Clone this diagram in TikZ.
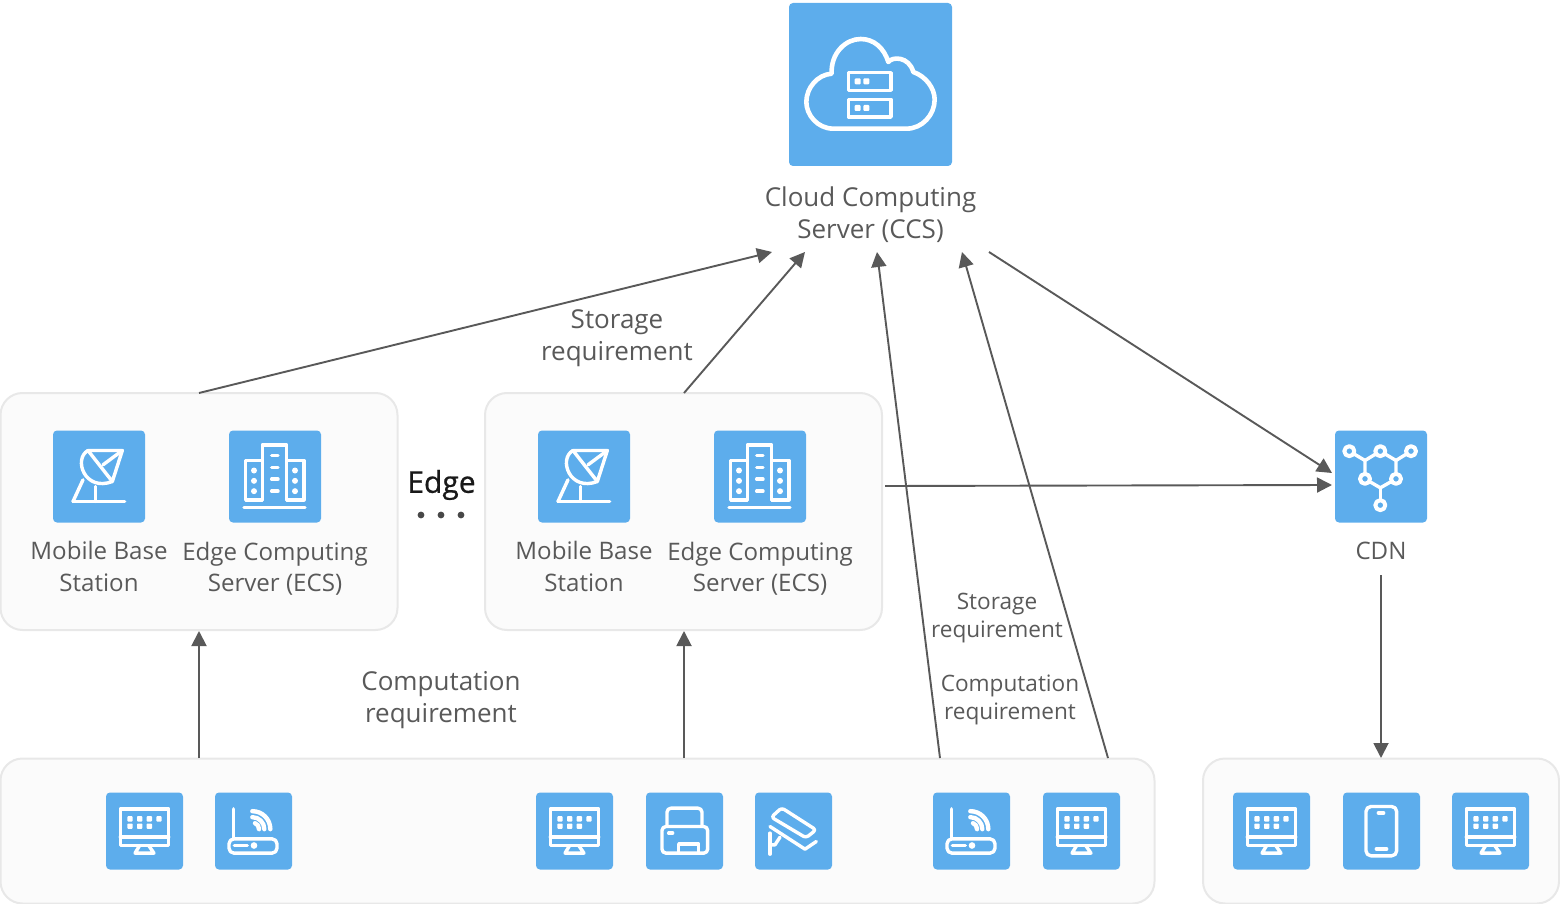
\documentclass[tikz,border=0pt]{standalone}
\usepackage{fontspec}
\setmainfont{Open Sans}
\usetikzlibrary{arrows.meta}
\definecolor{tileblue}{HTML}{5DADEC}
\definecolor{inkgrey}{HTML}{595959}
\definecolor{panelfill}{HTML}{FBFBFB}
\definecolor{panelline}{HTML}{E8E8E8}
\tikzset{
  panel/.style={draw=panelline,fill=panelfill,line width=1pt,rounded corners=11pt,inner sep=0pt,outer sep=0pt,anchor=north west},
  tile/.style={fill=tileblue,rounded corners=2pt,inner sep=0pt,outer sep=0pt,minimum size=#1},
  glyph/.style={draw=white,line width=1.7pt,line cap=round,line join=round,fill=none},
  blob/.style={fill=white,draw=none},
  link/.style={draw=inkgrey,line width=0.95pt,-{Triangle[length=7.5pt,width=7.5pt]}},
  lab/.style={text=inkgrey,align=center,font=\fontsize{13}{16}\selectfont,inner sep=0pt},
  panellab/.style={text=inkgrey,align=center,font=\fontsize{12.05}{15.7}\selectfont,inner sep=0pt},
  smalllab/.style={text=inkgrey,align=center,font=\fontsize{11.3}{14}\selectfont,inner sep=0pt},
  computer/.pic={
    \draw[glyph] (43,49) rectangle (188,159);
    \draw[glyph] (43,134) -- (188,134);
    \draw[glyph] (101,159) -- (87,182) -- (144,182) -- (128,159);
    \foreach \px in {72,101,130}{
      \fill[blob,rounded corners=0.4pt] (\px-8,71) rectangle (\px+8,87);
      \fill[blob,rounded corners=0.4pt] (\px-8,93) rectangle (\px+8,109);
    }
    \fill[blob,rounded corners=0.4pt] (151,71) rectangle (167,87);
  },
  router/.pic={
    \draw[glyph,rounded corners=2.5pt] (42,139) rectangle (186,182);
    \draw[glyph] (56,49) -- (56,139);
    \draw[glyph] (58,159) -- (97,159);
    \fill[blob] (117,159) circle[radius=10];
    \draw[glyph,line width=2.2pt] (112,56) .. controls (142,56) and (166,80) .. (166,110);
    \draw[glyph,line width=2.2pt] (112,74) .. controls (132,74) and (148,90) .. (148,110);
    \draw[glyph,line width=2.2pt] (120,92) .. controls (128,94) and (132,102) .. (132,110);
  },
  printer/.pic={
    \draw[glyph,rounded corners=2pt] (63,102) -- (63,47) -- (168,47) -- (168,102);
    \draw[glyph,rounded corners=2pt] (48,102) rectangle (185,182);
    \draw[glyph] (98,182) -- (98,154) -- (158,154) -- (158,182);
    \draw[glyph] (68,122) -- (80,122);
  },
  camera/.pic={
    \draw[glyph,rounded corners=1.5pt] (80,46) -- (183,112) -- (153,136) -- (49,74) -- cycle;
    \draw[glyph] (45,102) -- (150,170) -- (184,147);
    \draw[glyph] (45,122) -- (45,185);
    \draw[glyph] (45,157) -- (60,157) -- (75,134);
  },
  phone/.pic={
    \draw[glyph,rounded corners=2.5pt] (69,42) rectangle (161,190);
    \draw[glyph] (106,61) -- (122,61);
    \draw[glyph] (100,169) -- (131,169);
  },
  dish/.pic={
    \draw[glyph] (105,60) .. controls (60,85) and (95,185) .. (178,153);
    \draw[glyph] (105,60) -- (208,60) -- (178,153) -- cycle;
    \draw[glyph] (150,103) -- (208,60);
    \draw[glyph] (60,213) -- (215,213);
    \draw[glyph] (60,213) -- (90,148);
    \draw[glyph] (128,168) -- (128,213);
  },
  building/.pic={
    \draw[glyph] (100,208) -- (100,43) -- (173,43) -- (173,208);
    \draw[glyph] (50,90) rectangle (100,208);
    \draw[glyph] (173,90) rectangle (225,208);
    \draw[glyph] (45,231) -- (228,231);
    \foreach \py in {120,151,182}{
      \fill[blob] (75,\py) circle[radius=9];
      \fill[blob] (198,\py) circle[radius=9];
    }
    \foreach \py in {75,111,146,182}{
      \draw[glyph] (128,\py) -- (147,\py);
    }
  },
  cdn/.pic={
    \draw[glyph] (136,62) -- (183,90) -- (183,145) -- (136,172) -- (90,145) -- (90,90) -- cycle;
    \draw[glyph] (43,62) -- (90,90);
    \draw[glyph] (228,62) -- (183,90);
    \draw[glyph] (136,172) -- (136,224);
    \foreach \p in {(43,62),(136,62),(228,62),(90,145),(183,145),(136,224)}{
      \draw[glyph,line width=2pt,fill=tileblue] \p circle[radius=15];
    }
  },
  cloudserver/.pic={
    \draw[glyph,line width=2.3pt] (128,212) .. controls (125,150) and (170,108) .. (215,108)
      .. controls (255,108) and (285,135) .. (298,177)
      .. controls (310,160) and (360,160) .. (373,207)
      .. controls (410,220) and (437,255) .. (437,290)
      .. controls (437,335) and (400,377) .. (353,377)
      -- (133,377)
      .. controls (85,377) and (52,335) .. (52,297)
      .. controls (52,255) and (85,215) .. (128,212) -- cycle;
    \draw[glyph] (178,209) rectangle (306,262);
    \draw[glyph] (178,289) rectangle (306,342);
    \foreach \py in {235,315}{
      \fill[blob,rounded corners=0.5pt] (197,\py-9) rectangle (215,\py+9);
      \fill[blob,rounded corners=0.5pt] (223,\py-9) rectangle (241,\py+9);
    }
  }
}
\newcommand{\icontile}[5]{% name, x, y, size(px), pic
  \node[tile=#4*0.5pt] (#1) at (#2,#3) {};
  \pic[scale=1/3] at (#1.north west) {#5};
}
\begin{document}
\begin{tikzpicture}[x=0.5pt,y=-0.5pt]
\useasboundingbox (0,0) rectangle (1560,904);
% panels
\node[panel,minimum width=198.5pt,minimum height=118.5pt] (edgeA) at (0.5,393) {};
\node[panel,minimum width=198.5pt,minimum height=118.5pt] (edgeB) at (485,393) {};
\node[panel,minimum width=577pt,minimum height=72.5pt] (devA) at (0.5,758.5) {};
\node[panel,minimum width=178pt,minimum height=72.5pt] (devB) at (1203,758.5) {};
% top server
\icontile{ccs}{870.5}{84.5}{163}{cloudserver}
\node[lab] (ccstext) at (870.5,214.5) {Cloud Computing\\Server (CCS)};
% edge icons
\icontile{dishA}{99}{476.5}{92}{dish}
\icontile{bldA}{275}{476.5}{92}{building}
\icontile{dishB}{584}{476.5}{92}{dish}
\icontile{bldB}{760}{476.5}{92}{building}
\icontile{cdnhub}{1381}{476.5}{92}{cdn}
\node[panellab] (mobA) at (99,566.5) {Mobile Base\\Station};
\node[panellab] (ecsA) at (275,568.5) {Edge Computing\\Server (ECS)};
\node[panellab] (mobB) at (584,566.5) {Mobile Base\\Station};
\node[panellab] (ecsB) at (760,568.5) {Edge Computing\\Server (ECS)};
\node[panellab] (cdntext) at (1381,551) {CDN};
\node[lab,text=black!90,font=\fontsize{15}{17}\selectfont\addfontfeature{FakeBold=0.7}] (edgetext) at (441.5,485) {Edge};
\foreach \dx/\dn in {421/a,441/b,461/c}{
  \fill[inkgrey!80!black] (\dx,515) circle[radius=3.4];
}
\node[lab] (storeA) at (617,338) {Storage\\requirement};
\node[lab] (compA) at (441,700) {Computation\\requirement};
\node[smalllab] (storeB) at (997,618) {Storage\\requirement};
\node[smalllab] (compB) at (1010,700) {Computation\\requirement};
% device icons
\icontile{pcA}{144.5}{831}{77}{computer}
\icontile{rtA}{253.5}{831}{77}{router}
\icontile{pcB}{574.5}{831}{77}{computer}
\icontile{prn}{684.5}{831}{77}{printer}
\icontile{cam}{793.5}{831}{77}{camera}
\icontile{rtB}{971.5}{831}{77}{router}
\icontile{pcC}{1081.5}{831}{77}{computer}
\icontile{pcD}{1271.5}{831}{77}{computer}
\icontile{mob}{1381.5}{831}{77}{phone}
\icontile{pcE}{1490.5}{831}{77}{computer}
% free ends
\coordinate (inA) at (772,252);
\coordinate (inB) at (805,252);
\coordinate (inC) at (877,252);
\coordinate (inD) at (962,252);
\coordinate (outR) at (989,252);
\coordinate (upC) at (940,758);
\coordinate (upD) at (1108,758);
\coordinate (cdnL) at (1332,473);
\coordinate (cdnM) at (1332,485);
\coordinate (edgeOut) at (885,486);
\coordinate (cdnDown) at (1381,575);
\coordinate (devBtop) at (1381,758);
\coordinate (upA) at (199,758);
\coordinate (upB) at (684,758);
\coordinate (edgeAb) at (199,631);
\coordinate (edgeBb) at (684,631);
\coordinate (edgeAt) at (199,393);
\coordinate (edgeBt) at (684,393);
% connectors
\draw[link] (edgeAt) -- (inA);
\draw[link] (edgeBt) -- (inB);
\draw[link] (upC) -- (inC);
\draw[link] (upD) -- (inD);
\draw[link] (outR) -- (cdnL);
\draw[link] (edgeOut) -- (cdnM);
\draw[link] (cdnDown) -- (devBtop);
\draw[link] (upA) -- (edgeAb);
\draw[link] (upB) -- (edgeBb);
\end{tikzpicture}
\end{document}
